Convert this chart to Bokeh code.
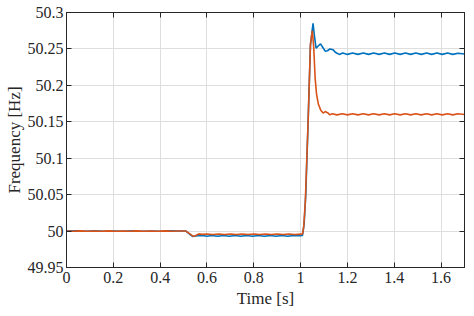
from bokeh.plotting import figure
from bokeh.models import FixedTicker, LinearAxis, CustomJSTickFormatter
from bokeh.embed import file_html
from bokeh.resources import INLINE

# ---- data ----
t_blue = [0.00, 0.04, 0.08, 0.12, 0.16, 0.20, 0.24, 0.28, 0.32, 0.36, 0.40, 0.44, 0.48, 0.51,
          0.525, 0.54, 0.56, 0.58, 0.60, 0.62, 0.645, 0.67, 0.695, 0.72, 0.745, 0.77, 0.795,
          0.82, 0.845, 0.87, 0.895, 0.92, 0.945, 0.97, 0.995, 1.008,
          1.015, 1.022, 1.032, 1.042, 1.053, 1.059, 1.066, 1.075, 1.085, 1.095, 1.105, 1.115,
          1.125, 1.138, 1.15, 1.165, 1.18,
          1.20, 1.222, 1.245, 1.268, 1.29, 1.312, 1.335, 1.358, 1.38, 1.402, 1.425, 1.448,
          1.47, 1.492, 1.515, 1.538, 1.56, 1.582, 1.605, 1.628, 1.65, 1.672, 1.70]
f_blue = [50.0000, 50.0003, 49.9998, 50.0003, 49.9998, 50.0002, 49.9998, 50.0003, 49.9998,
          50.0002, 49.9998, 50.0003, 50.0000, 50.0000,
          49.9960, 49.9925, 49.9935, 49.9940, 49.9930, 49.9940, 49.9930, 49.9940, 49.9930,
          49.9940, 49.9930, 49.9940, 49.9930, 49.9940, 49.9930, 49.9940, 49.9930, 49.9940,
          49.9930, 49.9940, 49.9935, 49.9940,
          50.010, 50.050, 50.150, 50.255, 50.285, 50.268, 50.251, 50.254, 50.257, 50.252,
          50.247, 50.2475, 50.250, 50.249, 50.245, 50.2425, 50.2445,
          50.2425, 50.2445, 50.2425, 50.2445, 50.2425, 50.2445, 50.2425, 50.2445, 50.2425,
          50.2445, 50.2425, 50.2445, 50.2425, 50.2445, 50.2425, 50.2445, 50.2425, 50.2445,
          50.2425, 50.2445, 50.2425, 50.2440, 50.2430]

t_orange = [0.00, 0.03, 0.06, 0.09, 0.12, 0.15, 0.18, 0.21, 0.24, 0.27, 0.30, 0.33, 0.36,
            0.39, 0.42, 0.45, 0.48, 0.51, 0.53, 0.54, 0.55, 0.565, 0.58, 0.60, 0.625, 0.65,
            0.675, 0.70, 0.725, 0.75, 0.775, 0.80, 0.825, 0.85, 0.875, 0.90, 0.925, 0.95,
            0.975, 1.0, 1.008,
            1.013, 1.020, 1.032, 1.042, 1.050, 1.056, 1.062, 1.068, 1.076, 1.086, 1.096,
            1.105, 1.115, 1.125, 1.135,
            1.155, 1.178, 1.20, 1.222, 1.245, 1.268, 1.29, 1.312, 1.335, 1.358, 1.38, 1.402,
            1.425, 1.448, 1.47, 1.492, 1.515, 1.538, 1.56, 1.582, 1.605, 1.628, 1.65, 1.672,
            1.70]
f_orange = [50.0002, 49.9998, 50.0003, 49.9998, 50.0002, 49.9997, 50.0003, 49.9998, 50.0002,
            49.9998, 50.0003, 49.9997, 50.0002, 49.9998, 50.0003, 49.9998, 50.0002, 50.0000,
            49.9955, 49.9930, 49.9935, 49.9962, 49.9955, 49.9960, 49.9952, 49.9960, 49.9952,
            49.9960, 49.9952, 49.9960, 49.9952, 49.9960, 49.9952, 49.9960, 49.9952, 49.9960,
            49.9952, 49.9960, 49.9952, 49.9958, 49.9960,
            50.005, 50.040, 50.150, 50.257, 50.275, 50.252, 50.210, 50.188, 50.174, 50.166,
            50.162, 50.1640, 50.1625, 50.1595, 50.1610,
            50.1595, 50.1610, 50.1595, 50.1610, 50.1595, 50.1610, 50.1595, 50.1610, 50.1595,
            50.1610, 50.1595, 50.1610, 50.1595, 50.1610, 50.1595, 50.1610, 50.1595, 50.1610,
            50.1595, 50.1610, 50.1595, 50.1610, 50.1595, 50.1610, 50.1600]

x_ticks = [0, 0.2, 0.4, 0.6, 0.8, 1.0, 1.2, 1.4, 1.6]
x_labels = ["0", "0.2", "0.4", "0.6", "0.8", "1", "1.2", "1.4", "1.6"]
y_ticks = [49.95, 50.0, 50.05, 50.1, 50.15, 50.2, 50.25, 50.3]
y_labels = ["49.95", "50", "50.05", "50.1", "50.15", "50.2", "50.25", "50.3"]

FONT = "Liberation Serif"
DARK = "#262626"

p = figure(width=474, height=316, x_range=(0, 1.7), y_range=(49.95, 50.3),
           output_backend="svg", toolbar_location=None,
           min_border_left=66, min_border_right=10, min_border_top=12, min_border_bottom=49)
p.background_fill_color = "white"
p.border_fill_color = "white"
p.outline_line_color = DARK
p.outline_line_width = 1

p.line(t_blue, f_blue, line_color="#0072BD", line_width=1.6)
p.line(t_orange, f_orange, line_color="#D95319", line_width=1.6)

for ax, ticks, labels in ((p.xaxis[0], x_ticks, x_labels), (p.yaxis[0], y_ticks, y_labels)):
    ax.ticker = FixedTicker(ticks=ticks)
    ax.major_label_overrides = {t: l for t, l in zip(ticks, labels)}
    ax.major_tick_in = 5
    ax.major_tick_out = 0
    ax.minor_tick_line_color = None
    ax.axis_line_color = DARK
    ax.major_tick_line_color = DARK
    ax.major_label_text_font = FONT
    ax.major_label_text_font_size = "16px"
    ax.major_label_text_color = DARK
    ax.axis_label_text_font = FONT
    ax.axis_label_text_font_size = "17px"
    ax.axis_label_text_font_style = "normal"
    ax.axis_label_text_color = DARK

p.xaxis[0].major_label_standoff = 4
p.yaxis[0].major_label_standoff = 3
p.xaxis[0].axis_label = "Time [s]"
p.yaxis[0].axis_label = "Frequency [Hz]"
p.xaxis[0].axis_label_standoff = 3
p.yaxis[0].axis_label_standoff = 1

blank = CustomJSTickFormatter(code="return ''")
top = LinearAxis(ticker=FixedTicker(ticks=x_ticks), formatter=blank,
                 major_label_standoff=0,
                 major_tick_in=5, major_tick_out=0, minor_tick_line_color=None,
                 axis_line_color=DARK, major_tick_line_color=DARK)
right = LinearAxis(ticker=FixedTicker(ticks=y_ticks), formatter=blank,
                   major_label_standoff=0,
                   major_tick_in=5, major_tick_out=0, minor_tick_line_color=None,
                   axis_line_color=DARK, major_tick_line_color=DARK)
p.add_layout(top, "above")
p.add_layout(right, "right")

p.xgrid.ticker = FixedTicker(ticks=x_ticks)
p.ygrid.ticker = FixedTicker(ticks=y_ticks)
p.grid.grid_line_color = "#dedede"
p.grid.grid_line_width = 1

open("out.html", "w").write(file_html(p, INLINE))
